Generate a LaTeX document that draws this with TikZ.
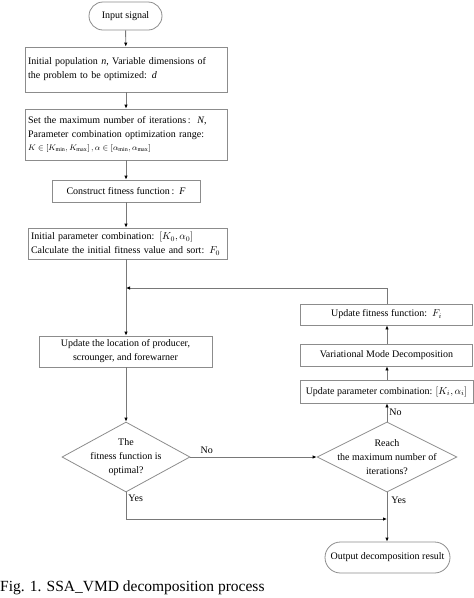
\documentclass[tikz,border=0pt]{standalone}
\usepackage{fontspec}
\setmainfont{Liberation Serif}
\usetikzlibrary{arrows.meta,shapes.misc,shapes.geometric}
\definecolor{edgegray}{RGB}{140,140,140}
\definecolor{linegray}{RGB}{120,120,120}
\tikzset{
  box/.style={draw=edgegray, line width=0.8pt, rectangle, inner sep=3pt, font=\fontsize{10}{14}\selectfont},
  leftbox/.style={box, align=left, text width=#1},
  term/.style={draw=edgegray, line width=0.8pt, rounded rectangle, inner sep=2pt, font=\fontsize{10}{14}\selectfont},
  dec/.style={draw=edgegray, line width=0.8pt, diamond, inner sep=0pt},
  dectext/.style={align=center, inner sep=0pt, font=\fontsize{10}{14}\selectfont},
  conn/.style={draw=linegray, line width=0.9pt, -{Latex[length=4pt,width=3.5pt,color=black]}},
  plain/.style={draw=linegray, line width=0.9pt},
  lbl/.style={font=\fontsize{10}{12}\selectfont, inner sep=1pt}
}
\begin{document}
\begin{tikzpicture}[x=1pt,y=-1pt]
\useasboundingbox (0,0) rectangle (474,598);
% nodes
\node[term, minimum width=77pt, minimum height=28pt] (start) at (125.5,16) {Input signal};
\node[leftbox=196pt, minimum width=202pt, minimum height=45pt] (b2) at (126,69.5)
  {Initial population \textit{n}, Variable dimensions of\\the problem to be optimized: \textit{d}};
\node[leftbox=196pt, minimum width=202pt, minimum height=51pt] (b3) at (126,134.5)
  {Set the maximum number of iterations\,:\ \ \textit{N},\\Parameter combination optimization range:\\[-1pt]{\fontsize{8}{10}\selectfont$K\in\left[K_{\min},K_{\max}\right],\alpha\in\left[\alpha_{\min},\alpha_{\max}\right]$}};
\node[box, minimum width=148pt, minimum height=22pt] (b4) at (126,191) {Construct fitness function\,:\ \ \textit{F}};
\node[leftbox=193pt, minimum width=199pt, minimum height=31pt] (b5) at (127.5,243.5)
  {Initial parameter combination: $[K_0,\alpha_0]$\\Calculate the initial fitness value and sort: $F_0$};
\coordinate (j) at (126,288);
\node[box, align=center, minimum width=173pt, minimum height=31pt] (b6) at (125.5,351.5)
  {Update the location of producer,\\scrounger, and forewarner};
\node[dec, minimum width=128pt, minimum height=70pt] (d1) at (126,457) {};
\node[dectext] (d1t) at (d1) {The\\fitness function is\\optimal?};
\node[dec, minimum width=140pt, minimum height=70pt] (d2) at (387,457) {};
\node[dectext] (d2t) at (d2) {Reach\\the maximum number of\\iterations?};
\node[box, minimum width=172pt, minimum height=21pt] (fit) at (386.5,314.5) {Update fitness function:\ \ $F_i$};
\node[box, minimum width=172pt, minimum height=22pt] (vmd) at (386.5,355) {Variational Mode Decomposition};
\node[box, minimum width=173pt, minimum height=23pt] (upd) at (386.5,391.5) {Update parameter combination: $[K_i,\alpha_i]$};
\node[term, minimum width=129pt, minimum height=31pt] (out) at (387.5,557.5) {Output decomposition result};
\coordinate (loopc) at (387,288);
\coordinate (yc) at (126,519);
\coordinate (ym) at (387,519);
% connectors
\draw[conn] (start) -- (b2);
\draw[conn] (b2) -- (b3);
\draw[conn] (b3) -- (b4);
\draw[conn] (b4) -- (b5.north -| b4);
\draw[plain] (b5.south -| j) -- (j);
\draw[conn] (j) -- (b6.north -| j);
\draw[conn] (fit.north -| loopc) -- (loopc) -- (j);
\draw[conn] (b6.south -| d1) -- (d1.north);
\draw[conn] (d1.east) -- node[lbl, pos=0.13, above=2pt] {No} (d2.west);
\draw[conn] (d2.north) -- node[lbl, pos=0.5, right=1pt] {No} (upd.south -| d2);
\draw[conn] (upd.north -| d2) -- (vmd.south -| d2);
\draw[conn] (vmd.north -| d2) -- (fit.south -| d2);
\draw[conn] (d1.south) -- node[lbl, pos=0.22, right=1pt] {Yes} (yc) -- (ym);
\draw[conn] (d2.south) -- node[lbl, pos=0.15, right=3pt] {Yes} (out.north -| d2);
% caption
\node[anchor=base west, inner sep=0pt, font=\fontsize{15.5}{18}\selectfont] (cap) at (0,591) {Fig. 1. SSA\_VMD decomposition process};
\end{tikzpicture}
\end{document}
